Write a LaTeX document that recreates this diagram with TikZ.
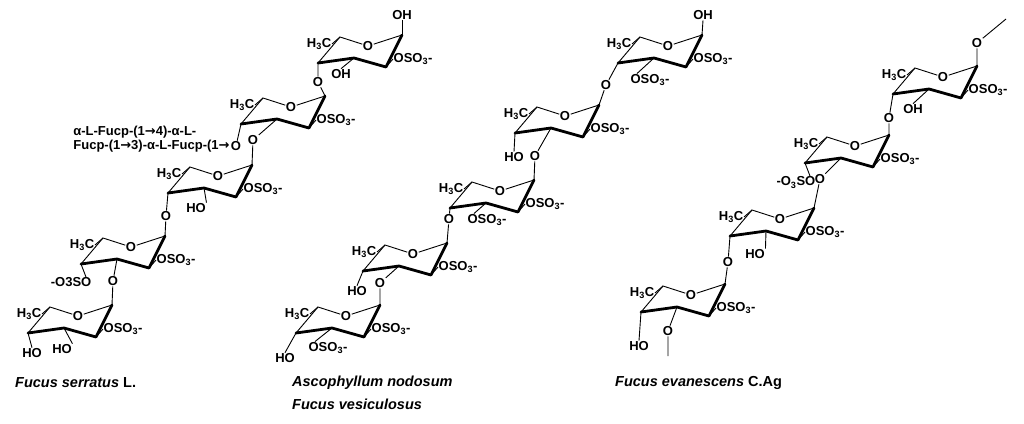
\documentclass[tikz,border=0pt]{standalone}
\usepackage{fontspec}
\setmainfont{Liberation Sans}
\newfontfamily\arrfont{DejaVu Sans}
\newcommand\rarr{{\arrfont\char"2192}}
\usetikzlibrary{calc}
\tikzset{
  atom/.style={inner sep=0.5pt,font=\fontsize{13}{14}\selectfont\bfseries},
  bnd/.style={line width=0.9pt},
  bold/.style={line width=2.8pt,line join=round,line cap=round},
  species/.style={inner sep=0pt,anchor=west,font=\fontsize{14.5}{16}\selectfont\bfseries}
}
\newcommand\fring[3]{%
  \coordinate (#1c5) at (#2,#3);
  \coordinate (#1c1) at ($(#1c5)+(62,-2)$);
  \coordinate (#1c2) at ($(#1c5)+(46,30)$);
  \coordinate (#1c3) at ($(#1c5)+(14,21)$);
  \coordinate (#1c4) at ($(#1c5)+(-22,26)$);
  \node[atom] (#1o) at ($(#1c5)+(28,9)$) {O};
  \draw[bnd] (#1c4) -- (#1c5) -- (#1o) -- (#1c1);
  \draw[bold] (#1c4) -- (#1c3) -- (#1c2) -- (#1c1);
  \node[atom,anchor=east] (#1m) at ($(#1c5)+(-8,7)$) {H\textsubscript{3}C};
  \draw[bnd] (#1c5) -- (#1m.east);
}
\newcommand\oso[1]{%
  \node[atom,anchor=west] (#1s2) at ($(#1c2)+(7,-8)$) {OSO\textsubscript{3}-};
  \draw[bnd] (#1c2) -- (#1s2.west);
}
\newcommand\glyc[5]{%
  \node[atom] (#1) at (#2,#3) {O};
  \draw[bnd] (#4) -- (#1) -- (#5);
}
\begin{document}
\begin{tikzpicture}[x=1pt,y=-1pt]
\useasboundingbox (0,0) rectangle (1024,423);
% ---------- Fucus serratus
\fring{a}{50}{307}\fring{b}{103}{238}\fring{c}{190}{167}\fring{d}{263}{98}\fring{e}{340}{37}
\oso{a}\oso{b}\oso{c}\oso{d}\oso{e}
\node[atom] (aho4) at (32,353) {HO}; \draw[bnd] (ac4) -- (aho4.north);
\node[atom] (aho3) at (62,349) {HO}; \draw[bnd] (ac3) -- (aho3.north east);
\node[atom,anchor=north east] (bso4) at ($(bc4)+(11,13)$) {-O3SO}; \draw[bnd] (bc4) -- ($(bso4.north east)+(-6,0)$);
\glyc{oab}{113}{281}{bc3}{ac1}
\glyc{obc}{166}{216}{cc4}{bc1}
\node[atom] (cho3) at (196,208) {HO}; \draw[bnd] (cc3) -- (cho3.north east);
\glyc{ocd}{253}{140}{dc3}{cc1}
\glyc{ode}{318}{82}{ec4}{dc1}
\node[atom] (dlink) at (236,146) {O}; \draw[bnd] (dc4) -- (dlink);
\node[atom,anchor=east] (chain2) at (dlink.west) {Fucp-(1\rarr3)-α-L-Fucp-(1\rarr};
\node[atom,anchor=south west] (chain1) at (chain2.north west) {α-L-Fucp-(1\rarr4)-α-L-};
\node[atom] (eoh3) at (341,74) {OH}; \draw[bnd] (ec3) -- (eoh3.north);
\node[atom] (eoh1) at (402,15) {OH}; \draw[bnd] (ec1) -- (eoh1.south);
\node[species] (sp1) at (15,383) {\itshape Fucus serratus \upshape L.};
% ---------- Ascophyllum
\fring{f}{318}{307}\fring{g}{385}{245}\fring{h}{472}{182}\fring{i}{537}{107}\fring{j}{640}{37}
\oso{f}\oso{g}\oso{h}\oso{i}\oso{j}
\node[atom] (fho4) at (285,358) {HO}; \draw[bnd] (fc4) -- (fho4.north);
\node[atom] (fso3) at (328,348) {OSO\textsubscript{3}-}; \draw[bnd] (fc3) -- ($(fso3.north west)+(7,0)$);
\glyc{ofg}{380}{283}{gc3}{fc1}
\node[atom] (gho4) at (357,291) {HO}; \draw[bnd] (gc4) -- (gho4.north);
\glyc{ogh}{449}{219}{hc4}{gc1}
\node[atom] (hso3) at (487,220) {OSO\textsubscript{3}-}; \draw[bnd] (hc3) -- ($(hso3.north west)+(7,0)$);
\glyc{ohi}{535}{156}{ic3}{hc1}
\node[atom] (iho4) at (514,157) {HO}; \draw[bnd] (ic4) -- (iho4.north);
\glyc{oij}{606}{85}{jc4}{ic1}
\node[atom] (jso3) at (650,80) {OSO\textsubscript{3}-}; \draw[bnd] (jc3) -- ($(jso3.north west)+(7,0)$);
\node[atom] (joh1) at (703,15) {OH}; \draw[bnd] (jc1) -- (joh1.south);
\node[species] (sp2) at (292,383) {\itshape Ascophyllum nodosum};
\node[species] (sp3) at (292,404) {\itshape Fucus vesiculosus};
% ---------- Fucus evanescens
\fring{k}{663}{286}\fring{l}{752}{210}\fring{m}{827}{137}\fring{n}{915}{68}
\oso{k}\oso{l}\oso{m}\oso{n}
\node[atom] (kho4) at (639,346) {HO}; \draw[bnd] (kc4) -- (kho4.north);
\node[atom] (ko3) at (668,331) {O}; \coordinate (kme) at (668,356);
\draw[bnd] (kc3) -- (ko3) -- (kme);
\glyc{okl}{728}{262}{lc4}{kc1}
\node[atom] (lho3) at (755,254) {HO}; \draw[bnd] (lc3) -- (lho3.north east);
\glyc{olm}{820}{179}{mc3}{lc1}
\node[atom,anchor=north east] (mso4) at ($(mc4)+(11,13)$) {-O\textsubscript{3}SO}; \draw[bnd] (mc4) -- ($(mso4.north east)+(-6,0)$);
\glyc{omn}{889}{118}{nc4}{mc1}
\node[atom] (noh3) at (913,109) {OH}; \draw[bnd] (nc3) -- (noh3.north);
\node[atom] (no1) at (977,43) {O}; \coordinate (nme) at (1006,19);
\draw[bnd] (nc1) -- (no1) -- (nme);
\node[species] (sp4) at (615,383) {\itshape Fucus evanescens \upshape C.Ag};
\end{tikzpicture}
\end{document}
